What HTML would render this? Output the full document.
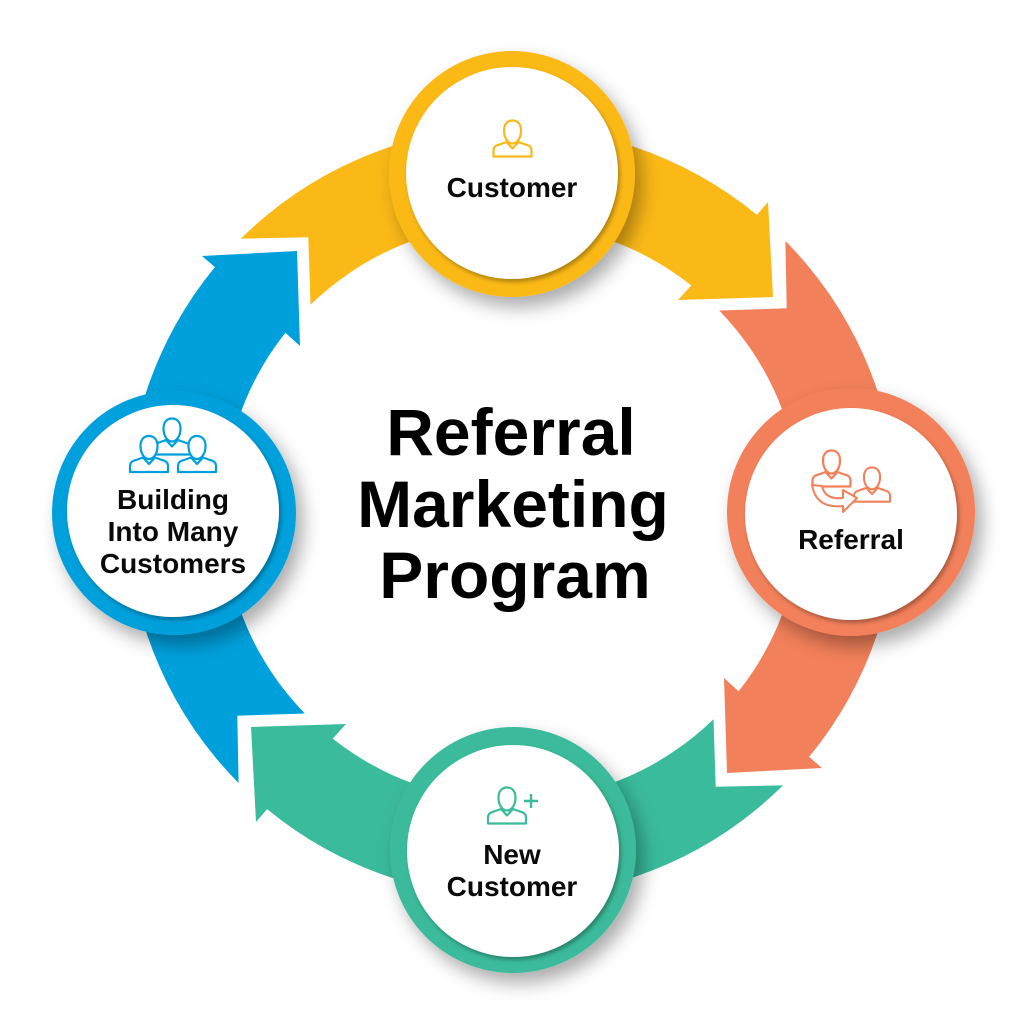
<!DOCTYPE html>
<html>
<head>
<meta charset="utf-8">
<style>
  html,body{margin:0;padding:0;background:#fff;}
  svg{display:block;}
  .lbl{font-family:"Liberation Sans",Arial,sans-serif;font-weight:700;font-size:28px;fill:#0a0a0a;}
  .title{font-family:"Liberation Sans",Arial,sans-serif;font-weight:700;font-size:66px;fill:#000;}
</style>
</head>
<body>
<svg width="1024" height="1024" viewBox="0 0 1024 1024" xmlns="http://www.w3.org/2000/svg">
  <defs>
    <filter id="sh" x="-40%" y="-40%" width="180%" height="180%">
      <feDropShadow dx="7" dy="10" stdDeviation="9" flood-color="#000" flood-opacity="0.33"/>
    </filter>
    <filter id="shi" x="-20%" y="-20%" width="140%" height="140%">
      <feDropShadow dx="2" dy="3" stdDeviation="2" flood-color="#000" flood-opacity="0.3"/>
    </filter>
    <path id="arrow" d="M 241.0,238.6 L 308.3,237.3 L 310.5,304.8 A 289 289 0 0 1 691.3,285.4 L 678,300 L 773,297 L 768,202 L 756.9,214.9 A 385 385 0 0 0 241.0,238.6 Z"/>
    <g id="person">
      <path d="M 1,37 L 1,31 C 1,27.5 3,26 7,25 L 14,22.5 L 20,29 L 26,22.5 L 33,25 C 37,26 39,27.5 39,31 L 39,37 Z"/>
      <path d="M 11.5,11 C 11.5,4.5 15,1 20,1 C 25,1 28.5,4.5 28.5,11 C 28.5,18 25,24 20,24 C 15,24 11.5,18 11.5,11 Z"/>
    </g>
  </defs>

  <rect width="1024" height="1024" fill="#fff"/>

  <!-- arrows -->
  <use href="#arrow" fill="#FBB917"/>
  <use href="#arrow" fill="#F2805A" transform="rotate(90 512 512)"/>
  <use href="#arrow" fill="#3ABB9B" transform="rotate(180 512 512)"/>
  <use href="#arrow" fill="#00A0DC" transform="rotate(270 512 512)"/>

  <!-- circles -->
  <circle cx="512" cy="174" r="123" fill="#FBB917" filter="url(#sh)"/>
  <circle cx="512" cy="173" r="106" fill="#fff" filter="url(#shi)"/>

  <circle cx="851" cy="512" r="124" fill="#F2805A" filter="url(#sh)"/>
  <circle cx="851" cy="514" r="106" fill="#fff" filter="url(#shi)"/>

  <circle cx="513" cy="850" r="123" fill="#3ABB9B" filter="url(#sh)"/>
  <circle cx="513" cy="851" r="106" fill="#fff" filter="url(#shi)"/>

  <circle cx="174" cy="513" r="122" fill="#00A0DC" filter="url(#sh)"/>
  <circle cx="173" cy="511" r="106" fill="#fff" filter="url(#shi)"/>

  <!-- icons -->
  <!-- Customer -->
  <use href="#person" transform="translate(492.5,119.5)" fill="#fff" stroke="#FBB917" stroke-width="2.2" stroke-linejoin="round"/>

  <!-- Referral -->
  <use href="#person" transform="translate(853,466.5) scale(0.95)" fill="#fff" stroke="#F2805A" stroke-width="2.2" stroke-linejoin="round"/>
  <use href="#person" transform="translate(811.5,449.5)" fill="#fff" stroke="#F2805A" stroke-width="2.2" stroke-linejoin="round"/>
  <path d="M 812,485 Q 816,509 843,506 L 843,512 L 857,498 L 843,490 L 843,498 Q 825,500 822,486 Z" fill="#fff" stroke="#F2805A" stroke-width="2" stroke-linejoin="round"/>

  <!-- New Customer -->
  <use href="#person" transform="translate(487,786.5)" fill="#fff" stroke="#3ABB9B" stroke-width="2.2" stroke-linejoin="round"/>
  <path d="M 524,801 L 538,801 M 531,794 L 531,808" stroke="#3ABB9B" stroke-width="2.4" fill="none"/>

  <!-- Building Into Many Customers -->
  <use href="#person" transform="translate(152,417.5)" fill="#fff" stroke="#00A0DC" stroke-width="2.2" stroke-linejoin="round"/>
  <use href="#person" transform="translate(129,435)" fill="#fff" stroke="#00A0DC" stroke-width="2.2" stroke-linejoin="round"/>
  <use href="#person" transform="translate(177,435)" fill="#fff" stroke="#00A0DC" stroke-width="2.2" stroke-linejoin="round"/>

  <!-- labels -->
  <text class="lbl" x="512" y="197" text-anchor="middle">Customer</text>
  <text class="lbl" x="851" y="549" text-anchor="middle">Referral</text>
  <text class="lbl" x="512" y="864" text-anchor="middle">New</text>
  <text class="lbl" x="512" y="896" text-anchor="middle">Customer</text>
  <text class="lbl" x="173" y="509" text-anchor="middle">Building</text>
  <text class="lbl" x="173" y="541" text-anchor="middle">Into Many</text>
  <text class="lbl" x="173" y="573" text-anchor="middle">Customers</text>

  <!-- title -->
  <text class="title" x="511" y="455" text-anchor="middle">Referral</text>
  <text class="title" x="513" y="527" text-anchor="middle">Marketing</text>
  <text class="title" x="515" y="598" text-anchor="middle">Program</text>
</svg>
</body>
</html>
